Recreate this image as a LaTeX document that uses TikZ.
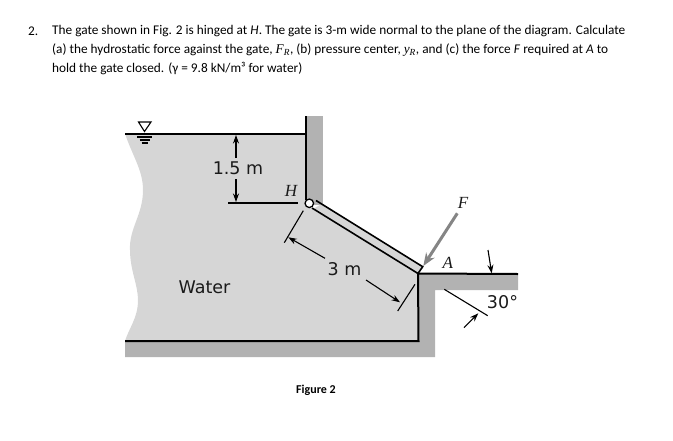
\documentclass[tikz,border=0pt]{standalone}
\usepackage{fontspec}
\setmainfont{Carlito}
\newfontfamily\lab{DejaVu Sans}
\newfontfamily\ser{Liberation Serif}
\usetikzlibrary{arrows.meta}
\definecolor{waterfill}{HTML}{D6D6D6}
\definecolor{wallfill}{HTML}{B2B2B2}
\definecolor{forcegray}{HTML}{858585}
\definecolor{ink}{HTML}{1A1A1A}
\tikzset{
 outline/.style={draw=black,line width=2pt},
 thin line/.style={draw=black,line width=1.1pt},
 dimarrow/.style={draw=black,line width=1.1pt,-{Stealth[length=8.5pt,width=6pt]}},
 para/.style={anchor=west,inner sep=0pt,font=\fontsize{13.3}{15}\selectfont,text=black},
 dimlabel/.style={inner sep=0pt,text=ink,font=\lab\fontsize{17.5}{19}\selectfont},
 letter/.style={inner sep=0pt,text=ink,font=\ser\itshape\fontsize{17}{19}\selectfont},
}
\newcommand{\vi}[1]{{\ser\itshape #1}}
\begin{document}
\begin{tikzpicture}[x=1pt,y=-1pt]
\useasboundingbox (0,0) rectangle (673,440);
% solids
\fill[wallfill] (306,116) -- (323,116) -- (323,205) -- (306,205) -- cycle;
\fill[wallfill] (125,341) -- (418,341) -- (418,274) -- (518,274) -- (518,290) -- (435,290) -- (435,357) -- (125,357) -- cycle;
% water
\fill[waterfill] (125,133.5) .. controls (132,155) and (143,170) .. (143,190)
  .. controls (143,215) and (129,228) .. (130,250)
  .. controls (130,270) and (138,285) .. (138,300)
  .. controls (138,318) and (129,328) .. (125,341)
  -- (418,341) -- (418,273) -- (306,205) -- (306,133.5) -- cycle;
% gate
\fill[waterfill] (321.7,204) -- (422.7,266.7) -- (418,273.5) -- (313,209) -- cycle;
\coordinate (wl) at (125,133.5); \coordinate (wr) at (306,133.5);
\coordinate (wt) at (306,116); \coordinate (wb) at (306,200);
\coordinate (gu1) at (316,200.5); \coordinate (gu2) at (422.7,266.7);
\coordinate (gl1) at (312,208); \coordinate (gl2) at (418,273.5);
\coordinate (fl) at (518,274);
\coordinate (bl) at (125,341); \coordinate (br) at (418.5,341);
\draw[outline] (wl) -- (wr);
\draw[outline] (wt) -- (wb);
\draw[outline,line width=1.6pt] (gu1) -- (gu2) -- (gl2) -- (gl1);
\draw[outline,line join=miter] (bl) -- (br) -- (gl2) -- (fl);
\node[circle,draw=black,fill=white,line width=1.3pt,minimum size=8.5pt,inner sep=0pt] (hinge) at (309.3,203.3) {};
% surface symbol
\draw[draw=black,line width=1.1pt] (138.5,122) -- (151,122) -- (144.5,131.5) -- cycle;
\draw[thin line] (137,137) -- (152,137) (139.5,140) -- (149.5,140) (141.5,143) -- (147.5,143);
% 1.5 m
\node[dimlabel] (d15) at (238,168.5) {1.5 m};
\coordinate (a1) at (236,158); \coordinate (a1t) at (236,135);
\coordinate (a2) at (236,179); \coordinate (a2t) at (236,202);
\draw[dimarrow] (a1) -- (a1t);
\draw[dimarrow] (a2) -- (a2t);
\coordinate (hl1) at (228,203); \coordinate (hl2) at (298,203);
\draw[thin line] (hl1) -- (hl2);
\node[letter] (H) at (291,190.5) {H};
% 3 m
\coordinate (t1a) at (303.3,210.7); \coordinate (t1b) at (284.3,242.7);
\coordinate (t2a) at (415,284.3); \coordinate (t2b) at (397.7,311);
\draw[thin line] (t1a) -- (t1b);
\draw[thin line] (t2a) -- (t2b);
\node[dimlabel] (d3) at (344.5,269) {3 m};
\coordinate (b1) at (325,258.3); \coordinate (b1t) at (288.3,237.3);
\coordinate (b2) at (366,280); \coordinate (b2t) at (400,302.3);
\draw[dimarrow] (b1) -- (b1t);
\draw[dimarrow] (b2) -- (b2t);
% F
\coordinate (f1) at (457.3,213.3); \coordinate (f2) at (423.3,266);
\draw[draw=forcegray,line width=3pt,-{Stealth[length=13pt,width=10pt]}] (f1) -- (f2);
\node[letter] (F) at (463,203) {F};
\node[letter] (A) at (447.7,263) {A};
% 30 deg
\coordinate (c1) at (444.3,289.3); \coordinate (c2) at (487.7,315.7);
\draw[thin line] (c1) -- (c2);
\coordinate (e1) at (488,250); \coordinate (e1t) at (491.7,273.3);
\coordinate (e2) at (464,327.7); \coordinate (e2t) at (478.3,313.3);
\draw[dimarrow] (e1) -- (e1t);
\draw[dimarrow] (e2) -- (e2t);
\node[dimlabel] (d30) at (502.5,302) {30°};
\node[dimlabel] (wat) at (204.5,287) {Water};
\node[inner sep=0pt,font=\bfseries\fontsize{12}{14}\selectfont] (fig) at (316,390.5) {Figure 2};
% text
\node[para] (n) at (28,31) {2.};
\node[para] (l1) at (52,31) {The gate shown in Fig. 2 is hinged at \textit{H}. The gate is 3-m wide normal to the plane of the diagram. Calculate};
\node[para] (l2) at (52,50) {(a) the hydrostatic force against the gate, \vi{F\textsubscript{R}}, (b) pressure center, \vi{y\textsubscript{R}}, and (c) the force \textit{F} required at \textit{A} to};
\node[para] (l3) at (52,68.5) {hold the gate closed. (γ = 9.8 kN/m³ for water)};
\end{tikzpicture}
\end{document}
